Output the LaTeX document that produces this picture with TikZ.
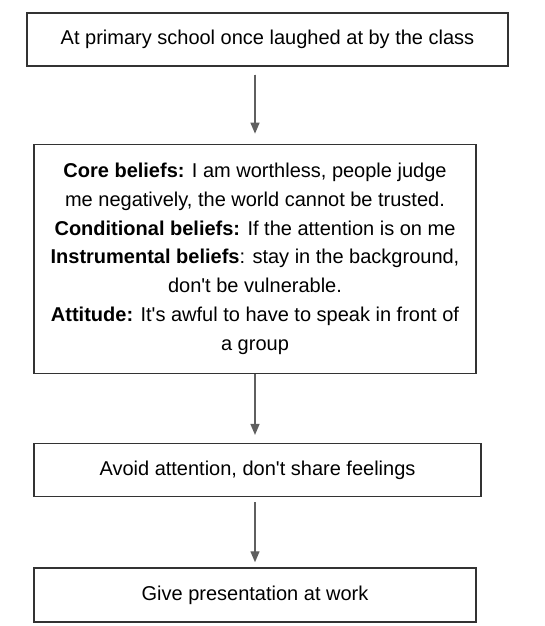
\documentclass[tikz,border=0pt]{standalone}
\usepackage{fontspec}
\setmainfont{Liberation Sans}[Ligatures=TeXOff]
\usetikzlibrary{arrows.meta, positioning}
\definecolor{boxline}{RGB}{51,51,51}
\definecolor{arrowgray}{RGB}{95,95,95}
\tikzset{
    process/.style={
        rectangle, minimum height=53pt, text centered, draw=boxline, line width=1.3pt, inner sep=0pt,
        font=\fontsize{20}{28.7}\selectfont
    },
    arrow/.style={
        draw=arrowgray, fill=arrowgray, line width=1.3pt, -{Triangle[width=9pt,length=11pt]}
    }
}

\begin{document}
\begin{tikzpicture}[>=stealth]
            \useasboundingbox (0,0) rectangle (544pt,-626pt);

            % Steps
            \node[process, minimum width=481pt] (incident) at (267.5pt,-39.5pt) {At primary school once laughed at by the class};
            \node[process, minimum width=442pt, minimum height=229pt, align=center, below=77pt of incident, xshift=-12.5pt] (beliefs) {\textbf{Core beliefs:} I am worthless, people judge\\me negatively, the world cannot be trusted.\\\textbf{Conditional beliefs:} If the attention is on me\\\textbf{Instrumental beliefs}: stay in the background,\\don't be vulnerable.\\\textbf{Attitude:} It's awful to have to speak in front of\\a group};
            \node[process, minimum width=447pt, below=69pt of beliefs, xshift=2.5pt] (strategy) {Avoid attention, don't share feelings};
            \node[process, minimum width=442pt, minimum height=54pt, below=70pt of strategy, xshift=-2.5pt] (situation) {Give presentation at work};

            % Arrows
            \draw[arrow, shorten <=8pt, shorten >=10pt] (beliefs.north |- incident.south) -- (beliefs.north);
            \draw[arrow, shorten >=8pt] (beliefs.south) -- (beliefs.south |- strategy.north);
            \draw[arrow, shorten <=5pt, shorten >=5pt] (situation.north |- strategy.south) -- (situation.north);

        \end{tikzpicture}
\end{document}
